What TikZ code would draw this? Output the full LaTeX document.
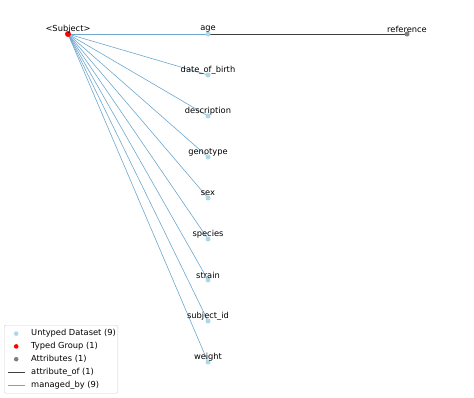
\documentclass[tikz,border=0pt]{standalone}
\usepackage{fontspec}
\setmainfont{DejaVu Sans}
\usetikzlibrary{matrix,backgrounds}
\definecolor{mplblue}{HTML}{1F77B4}
\definecolor{dsblue}{HTML}{ADD8E6}

\tikzset{
  dsdot/.style={circle, fill=dsblue, inner sep=0pt, minimum size=5pt},
  grpdot/.style={circle, fill=red, inner sep=0pt, minimum size=6pt},
  attrdot/.style={circle, fill=gray, inner sep=0pt, minimum size=5pt},
  nlabel/.style={yshift=5pt, inner sep=0pt},
  managed/.style={draw=mplblue!65, line width=0.6pt},
  attrof/.style={draw=black!75, line width=0.6pt},
  legmark/.style={minimum width=20pt, minimum height=12.8pt},
  legdot/.style={legmark, path picture={\fill[#1] (path picture bounding box.center) circle (2.3pt);}},
  legline/.style={legmark, path picture={\draw[#1, shorten <=2pt, shorten >=1pt] (path picture bounding box.west) -- (path picture bounding box.east);}}
}

\begin{document}
\begin{tikzpicture}[x=1pt, y=-1pt, font=\fontsize{8.3}{10}\selectfont]
  \useasboundingbox (0,0) rectangle (474,397);

  % group and attribute
  \node[grpdot, label={[nlabel]center:<Subject>}] (subj) at (68,34) {};
  \node[attrdot, label={[nlabel]center:reference}] (ref) at (407,34) {};

  % datasets
  \foreach \nm/\txt [count=\i from 0] in {age/age, dob/date\_of\_birth, desc/description,
      geno/genotype, sex/sex, spec/species, strain/strain, sid/subject\_id, weight/weight}
    \node[dsdot, label={[nlabel]center:\txt}] (\nm) at (208,{34+41*\i}) {};

  \begin{scope}[on background layer]
    \foreach \nm in {age,dob,desc,geno,sex,spec,strain,sid,weight}
      \draw[managed] (subj.center) -- (\nm.center);
    \draw[attrof] (age.center) -- (ref.center);
  \end{scope}

  \matrix[
    matrix of nodes,
    anchor=north west,
    draw=black!18,% Rahmen um Legende
    fill=white,
    rounded corners=2pt,
    inner sep=2pt,
    row sep=0pt,
    column sep=5pt,
    nodes={anchor=west, inner sep=0pt, text height=6.3pt, text depth=1.8pt, minimum height=12.8pt}
  ]
  (legend) at (4,325){
    |[legdot=dsblue]| & Untyped Dataset (9) \\
    |[legdot=red]| & Typed Group (1) \\
    |[legdot=gray]| & Attributes (1) \\
    |[legline={black!75, line width=0.6pt}]| & attribute\_of (1) \\
    |[legline={mplblue!65, line width=0.6pt}]| & managed\_by (9) \\
  };
\end{tikzpicture}
\end{document}
